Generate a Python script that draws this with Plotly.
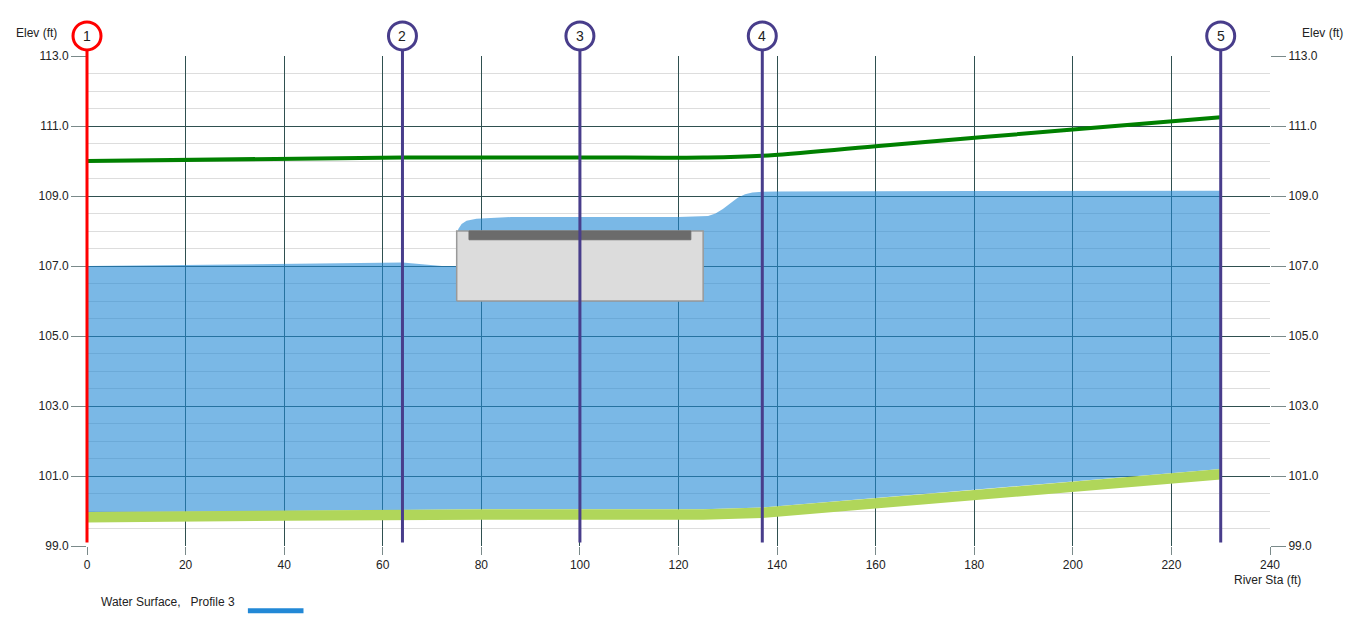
import plotly.graph_objects as go

# Data
ws_x = [0, 20, 40, 60, 64, 68, 72, 75, 75.3, 76, 77, 79, 82, 86, 100, 120, 126, 127.5, 129, 130.5, 132, 133.5, 135, 137, 140, 180, 230]
ws_y = [107.0, 107.03, 107.06, 107.1, 107.1, 107.05, 107.0, 107.0, 108.05, 108.2, 108.29, 108.35, 108.38, 108.4, 108.4, 108.4, 108.43, 108.5, 108.63, 108.79, 108.95, 109.05, 109.1, 109.12, 109.13, 109.14, 109.15]
bed_x = [0, 40, 80, 125, 137, 180, 230]
bed_top = [99.97, 100.0, 100.05, 100.05, 100.1, 100.6, 101.2]
bed_bot = [99.67, 99.72, 99.75, 99.75, 99.8, 100.3, 100.9]
eg_x = [0, 64, 100, 125, 137, 160, 200, 230]
eg_y = [110.0, 110.1, 110.1, 110.1, 110.15, 110.42, 110.9, 111.25]
bridge_x = [75, 125]
bridge_y = [106.0, 108.0]
deck_x = [77.5, 122.5]
deck_y = [107.75, 108.0]
sec_x = [0, 64, 100, 137, 230]
sec_lbl = ["1", "2", "3", "4", "5"]
sec_col = ["#ff0000", "#483d8b", "#483d8b", "#483d8b", "#483d8b"]
X_MAX = 240

fig = go.Figure()
fig.add_trace(go.Scatter(x=ws_x + bed_x[::-1], y=ws_y + bed_top[::-1], fill="toself",
                         fillcolor="rgba(33,136,213,0.6)", line=dict(width=0),
                         mode="lines", hoverinfo="skip", showlegend=False))
fig.add_trace(go.Scatter(x=bed_x + bed_x[::-1], y=bed_top + bed_bot[::-1], fill="toself",
                         fillcolor="#b0d65a", line=dict(width=0), mode="lines", showlegend=False))
fig.add_trace(go.Scatter(x=[bridge_x[0], bridge_x[1], bridge_x[1], bridge_x[0], bridge_x[0]],
                         y=[bridge_y[0], bridge_y[0], bridge_y[1], bridge_y[1], bridge_y[0]],
                         fill="toself", fillcolor="#dcdcdc", line=dict(color="#999999", width=1.5),
                         mode="lines", showlegend=False))
fig.add_trace(go.Scatter(x=[deck_x[0], deck_x[1], deck_x[1], deck_x[0], deck_x[0]],
                         y=[deck_y[0], deck_y[0], deck_y[1], deck_y[1], deck_y[0]],
                         fill="toself", fillcolor="#6b6b6b", line=dict(color="#6b6b6b", width=1),
                         mode="lines", showlegend=False))
fig.add_trace(go.Scatter(x=eg_x, y=eg_y, mode="lines", line=dict(color="#008000", width=4),
                         line_shape="spline", showlegend=False))
fig.add_trace(go.Scatter(x=[0], y=[99], yaxis="y2", mode="markers", marker=dict(opacity=0),
                         showlegend=False, hoverinfo="skip"))

shapes = []
annotations = []
for sx, lb, c in zip(sec_x, sec_lbl, sec_col):
    px = sx / X_MAX
    shapes.append(dict(type="line", xref="paper", yref="paper", x0=px, x1=px, y0=0.007, y1=1.013,
                       line=dict(color=c, width=3), layer="above"))
    shapes.append(dict(type="circle", xref="paper", yref="paper", xsizemode="pixel", ysizemode="pixel",
                       xanchor=px, yanchor=1.041, x0=-14, x1=14, y0=-14, y1=14,
                       fillcolor="white", line=dict(color=c, width=3), layer="above"))
    annotations.append(dict(text=lb, x=sx, y=1.041, xref="x", yref="paper", showarrow=False,
                            xanchor="center", yanchor="middle", font=dict(size=14, color="#222")))

tf = dict(size=12, color="#222", family="Liberation Sans")
fig.update_layout(
    width=1341, height=616, plot_bgcolor="white", paper_bgcolor="white",
    margin=dict(l=79, r=79, t=48, b=78),
    font=dict(family="Liberation Sans"),
    xaxis=dict(range=[0, X_MAX], dtick=20, tick0=0, gridcolor="#2f5050", showline=False, zeroline=False,
               ticks="outside", ticklen=8, tickcolor="#7a8a8a", tickfont=tf, automargin=False),
    yaxis=dict(range=[99, 113], dtick=2, tick0=99, tickformat=".1f", gridcolor="#2f5050", zeroline=False,
               ticks="outside", ticklen=15, tickcolor="#7a8a8a", tickfont=tf, automargin=False,
               minor=dict(dtick=0.5, showgrid=True, gridcolor="#dddddd")),
    yaxis2=dict(range=[99, 113], dtick=2, tick0=99, tickformat=".1f", overlaying="y", side="right",
                showgrid=False, zeroline=False, ticks="outside", ticklen=15, tickcolor="#7a8a8a",
                tickfont=tf, automargin=False),
    annotations=annotations + [
        dict(text="Elev (ft)", x=-0.062, y=1.065, xref="paper", yref="paper", showarrow=False,
             xanchor="left", font=dict(size=12, color="#222")),
        dict(text="Elev (ft)", x=1.063, y=1.065, xref="paper", yref="paper", showarrow=False,
             xanchor="right", font=dict(size=12, color="#222")),
        dict(text="River Sta (ft)", x=1.028, y=-0.088, xref="paper", yref="paper", showarrow=False,
             xanchor="right", font=dict(size=12, color="#222")),
        dict(text="Water Surface,   Profile 3", x=0.01, y=-0.132, xref="paper", yref="paper",
             showarrow=False, xanchor="left", font=dict(size=12, color="#222")),
    ],
    shapes=shapes + [dict(type="line", xref="paper", yref="paper", x0=0.136, x1=0.183, y0=-0.132, y1=-0.132,
                          line=dict(color="#2288d6", width=5))],
)
fig.write_html("out.html")
